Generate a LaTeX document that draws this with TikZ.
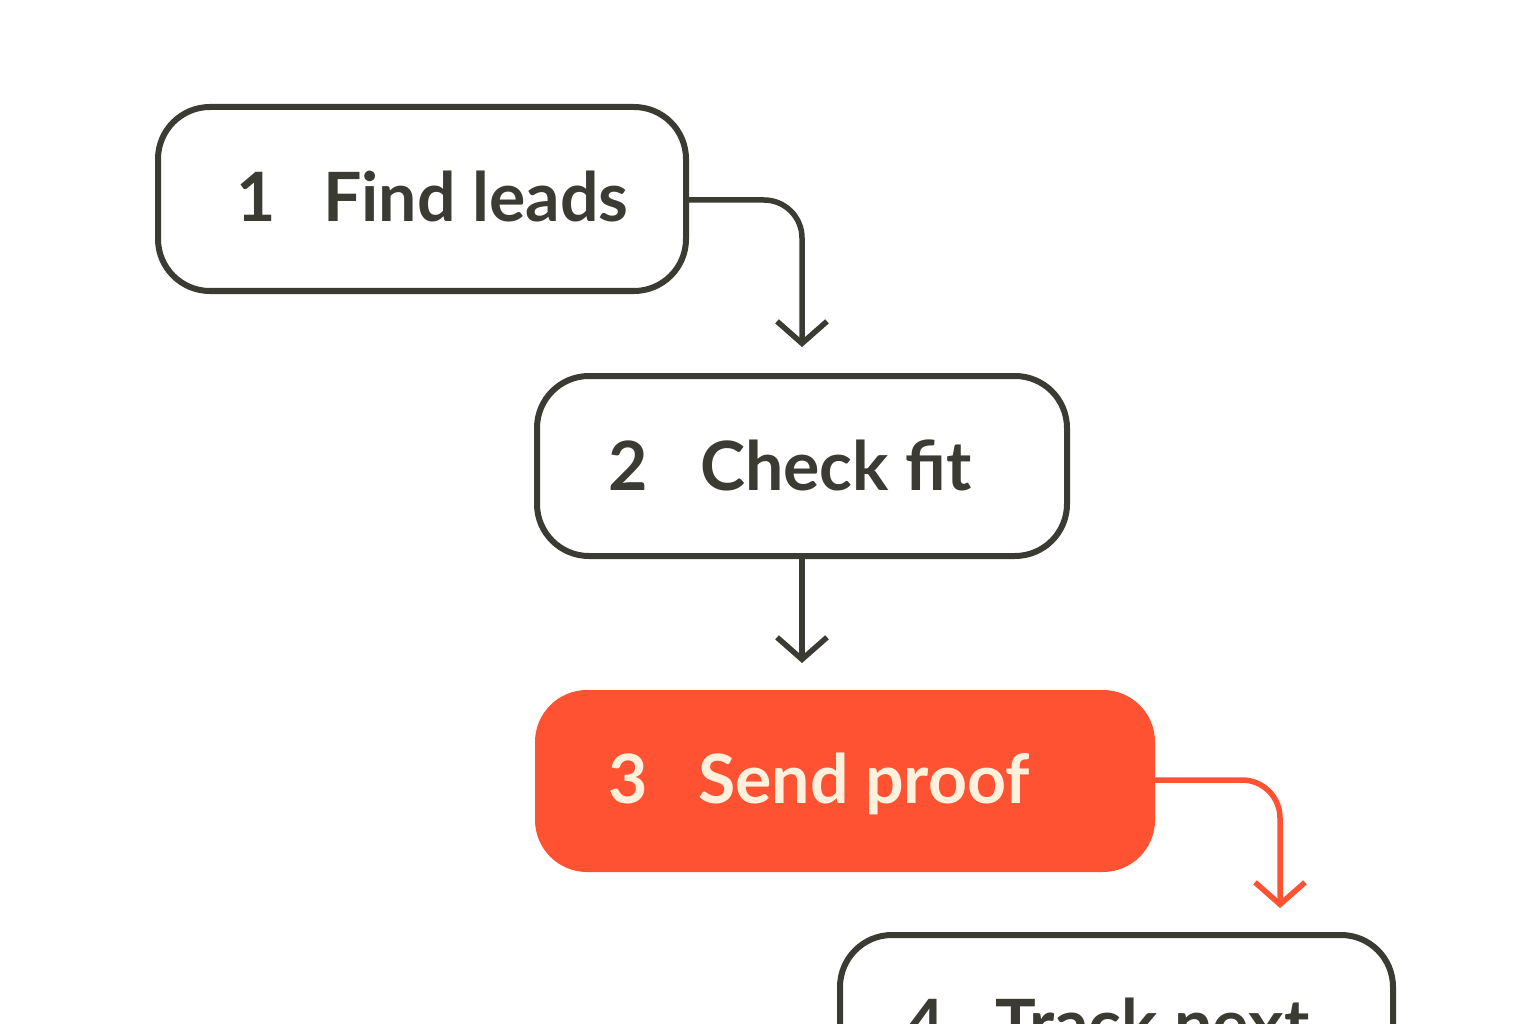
\documentclass[tikz,border=0pt]{standalone}
\usepackage{fontspec}
\setmainfont{Lato}
\usetikzlibrary{arrows.meta}
\definecolor{ink}{HTML}{3B3B33}
\definecolor{hot}{HTML}{FF5233}
\definecolor{cream}{HTML}{FFF1DC}
\tikzset{
  box/.style={draw=ink,line width=6pt,rounded corners=52pt},
  hotbox/.style={fill=hot,rounded corners=52pt},
  lbl/.style={anchor=base west,font=\fontsize{68}{76}\selectfont\bfseries,text=ink,inner sep=0},
  conn/.style={line width=5.5pt,rounded corners=38pt,-{Straight Barb[length=22pt,width=50pt,line width=5.5pt]}},
}
\begin{document}
\begin{tikzpicture}[x=1pt,y=-1pt]
\useasboundingbox (0,0) rectangle (1536,1024);
\clip (0,0) rectangle (1536,1024);
\fill[white] (0,0) rectangle (1536,1024);
\draw[box] (158,107) rectangle (686,291);
\coordinate (b1e) at (686,200);
\draw[box] (537,376) rectangle (1067,556);
\coordinate (b2s) at (802,556);
\fill[hotbox] (535,690) rectangle (1155,872);
\coordinate (b3e) at (1155,780);
\draw[box] (840,935) rectangle (1393,1150);
\node[lbl] (n1) at (236,222) {1};
\node[lbl] (t1) at (323,222) {Find leads};
\node[lbl] (n2) at (608,490) {2};
\node[lbl] (t2) at (700,490) {Check fit};
\node[lbl,text=cream] (n3) at (608,803) {3};
\node[lbl,text=cream] (t3) at (698,803) {Send proof};
\node[lbl] (n4) at (905,1048) {4};
\node[lbl] (t4) at (995,1048) {Track next};
\coordinate (a2) at (802,347);
\coordinate (a3) at (802,663);
\coordinate (a4) at (1280,908);
\draw[conn,draw=ink] (b1e) -- (802,200) -- (a2);
\draw[conn,draw=ink] (b2s) -- (a3);
\draw[conn,draw=hot] (b3e) -- (1280,780) -- (a4);
\end{tikzpicture}
\end{document}
